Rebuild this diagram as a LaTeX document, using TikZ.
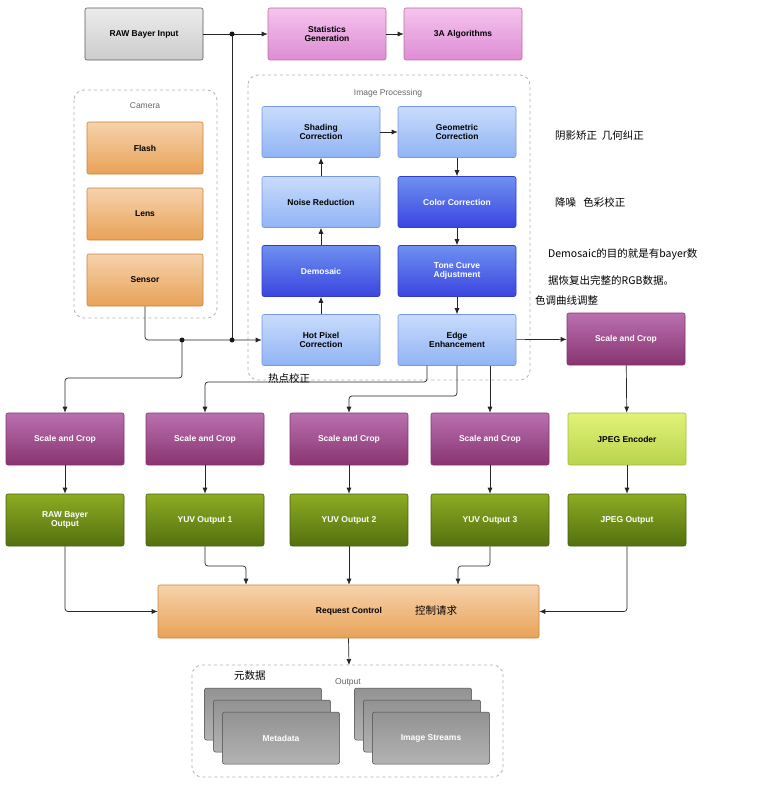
\documentclass[tikz,border=0pt]{standalone}
\usepackage{fontspec}
\setmainfont{Liberation Sans}
\newfontfamily\cjk{Noto Sans CJK SC}
\usetikzlibrary{arrows.meta,calc}
\begin{document}
\begin{tikzpicture}[x=1pt,y=-1pt,
  box/.style={draw=#1!70!black,line width=0.6pt,rounded corners=2pt,minimum width=118pt,minimum height=52pt,align=center,font=\bfseries\fontsize{8.5}{9.5}\selectfont,inner sep=1pt},
  gray/.style={box=gray,top color=gray!15,bottom color=gray!40},
  pinkb/.style={draw=magenta!40!gray,line width=0.6pt,rounded corners=2pt,minimum width=118pt,minimum height=52pt,align=center,font=\bfseries\fontsize{8.5}{9.5}\selectfont,top color={rgb,255:red,245;green,196;blue,238},bottom color={rgb,255:red,222;green,140;blue,212}},
  orng/.style={draw={rgb,255:red,200;green,130;blue,60},line width=0.6pt,rounded corners=2pt,minimum width=116pt,minimum height=52pt,align=center,font=\bfseries\fontsize{8.5}{9.5}\selectfont,top color={rgb,255:red,246;green,210;blue,172},bottom color={rgb,255:red,232;green,162;blue,87}},
  lblue/.style={draw={rgb,255:red,120;green,150;blue,230},line width=0.6pt,rounded corners=2pt,minimum width=118pt,minimum height=51pt,align=center,font=\bfseries\fontsize{8.5}{9.5}\selectfont,top color={rgb,255:red,200;green,220;blue,252},bottom color={rgb,255:red,145;green,180;blue,245}},
  dblue/.style={draw={rgb,255:red,50;green,60;blue,200},line width=0.6pt,rounded corners=2pt,minimum width=118pt,minimum height=51pt,align=center,text=white,font=\bfseries\fontsize{8.5}{9.5}\selectfont,top color={rgb,255:red,110;green,145;blue,240},bottom color={rgb,255:red,58;green,68;blue,224}},
  purp/.style={draw={rgb,255:red,130;green,50;blue,110},line width=0.6pt,rounded corners=2pt,minimum width=118pt,minimum height=52pt,align=center,text=white,font=\bfseries\fontsize{8.5}{9.5}\selectfont,top color={rgb,255:red,186;green,112;blue,176},bottom color={rgb,255:red,136;green,52;blue,112}},
  lgreen/.style={draw={rgb,255:red,160;green,190;blue,60},line width=0.6pt,rounded corners=2pt,minimum width=118pt,minimum height=52pt,align=center,font=\bfseries\fontsize{8.5}{9.5}\selectfont,top color={rgb,255:red,226;green,242;blue,120},bottom color={rgb,255:red,184;green,212;blue,76}},
  green/.style={draw={rgb,255:red,70;green,95;blue,15},line width=0.6pt,rounded corners=2pt,minimum width=118pt,minimum height=52pt,align=center,text=white,font=\bfseries\fontsize{8.5}{9.5}\selectfont,top color={rgb,255:red,140;green,172;blue,34},bottom color={rgb,255:red,84;green,112;blue,16}},
  card/.style={draw=gray!60!black,line width=0.5pt,rounded corners=2pt,minimum width=117pt,minimum height=52pt,align=center,text=white,font=\bfseries\fontsize{8.5}{9.5}\selectfont,top color=gray!85,bottom color=gray!140!black},
  grp/.style={draw=gray!60,dashed,line width=0.8pt,rounded corners=10pt},
  gl/.style={text=gray!80!black,font=\fontsize{8.5}{9.5}\selectfont},
  ar/.style={draw=gray!30!black,line width=0.7pt,-{Latex[length=6pt,width=5pt]}},
  ln/.style={draw=gray!30!black,line width=0.7pt},
  dot/.style={circle,fill=gray!20!black,inner sep=0pt,minimum size=5pt},
  zh/.style={font=\cjk\fontsize{10.5}{12}\selectfont,anchor=west,inner sep=0pt}]
\useasboundingbox (0,0) rectangle (766,789);
% groups
\draw[grp] (74,90) rectangle (217,318);
\node[gl] (camlbl) at (145,106) {Camera};
\draw[grp] (248,75) rectangle (530,380);
\node[gl] (iplbl) at (388,93) {Image Processing};
\draw[grp] (192,665) rectangle (503,777);
\node[gl] (outlbl) at (348,682) {Output};
% top
\node[gray] (raw) at (144,34) {RAW Bayer Input};
\node[pinkb] (stat) at (327,34) {Statistics\\Generation};
\node[pinkb] (aaa) at (463,34) {3A Algorithms};
% camera
\node[orng] (flash) at (145,148) {Flash};
\node[orng] (lens) at (145,214) {Lens};
\node[orng] (sensor) at (145,280) {Sensor};
% IP
\node[lblue] (shade) at (321,132) {Shading\\Correction};
\node[lblue] (geo) at (457,132) {Geometric\\Correction};
\node[lblue] (noise) at (321,202) {Noise Reduction};
\node[dblue] (color) at (457,202) {Color Correction};
\node[dblue] (demo) at (321,271) {Demosaic};
\node[dblue] (tone) at (457,271) {Tone Curve\\Adjustment};
\node[lblue] (hot) at (321,340) {Hot Pixel\\Correction};
\node[lblue] (edge) at (457,340) {Edge\\Enhancement};
\node[purp] (scr) at (626,339) {Scale and Crop};
% scale row
\node[purp] (s1) at (65,439) {Scale and Crop};
\node[purp] (s2) at (205,439) {Scale and Crop};
\node[purp] (s3) at (349,439) {Scale and Crop};
\node[purp] (s4) at (490,439) {Scale and Crop};
\node[lgreen] (jenc) at (627,439) {JPEG Encoder};
% outputs
\node[green] (o1) at (65,520) {RAW Bayer\\Output};
\node[green] (o2) at (205,520) {YUV Output 1};
\node[green] (o3) at (349,520) {YUV Output 2};
\node[green] (o4) at (490,520) {YUV Output 3};
\node[green] (o5) at (627,520) {JPEG Output};
\node[orng,minimum width=381pt,minimum height=53pt] (req) at (348.5,611.5) {};
\node[font=\bfseries\fontsize{8.5}{9.5}\selectfont] (reqt) at (349,611) {Request Control};
% cards
\node[card] (m1) at (263,714) {};
\node[card] (m2) at (272,726) {};
\node[card] (m3) at (281,738) {Metadata};
\node[card] (i1) at (413,714) {};
\node[card] (i2) at (422,726) {};
\node[card] (i3) at (431,738) {Image Streams};
% annotations
\node[zh] (a1) at (555,136) {阴影矫正\ \ 几何纠正};
\node[zh] (a2) at (555,202) {降噪\ \ \ 色彩校正};
\node[zh] (a3) at (548,254) {Demosaic的目的就是有bayer数};
\node[zh] (a4) at (548,280) {据恢复出完整的RGB数据。};
\node[zh] (a5) at (535,300) {色调曲线调整};
\node[zh] (a6) at (268,378) {热点校正};
\node[zh] (a7) at (415,611) {控制请求};
\node[zh] (a8) at (234,676) {元数据};
% connectors
\coordinate (d1) at (232,34);
\coordinate (d2) at (232,340);
\coordinate (d3) at (182,340);
\draw[ar] (raw) -- (stat);
\draw[ar] (stat) -- (aaa);
\draw[ln] (d1) -- (d2);
\draw[ar,rounded corners=3pt] (sensor.south) |- (hot.west);
\draw[ar,rounded corners=3pt] (d3) -- (182,378) -| (s1.north);
\node[dot] (dd1) at (d1) {};
\node[dot] (dd2) at (d2) {};
\node[dot] (dd3) at (d3) {};
\draw[ar] (shade) -- (geo);
\draw[ar] (geo) -- (color);
\draw[ar] (color) -- (tone);
\draw[ar] (tone) -- (edge);
\draw[ar] (hot) -- (demo);
\draw[ar] (demo) -- (noise);
\draw[ar] (noise) -- (shade);
\draw[ar] (edge) -- (scr);
\draw[ar,rounded corners=3pt] (edge.south -| 427,0) -- (427,382) -| (s2.north);
\draw[ar,rounded corners=3pt] (edge.south) -- (457,396) -| (s3.north);
\draw[ar] (edge.south -| s4.north) -- (s4.north);
\draw[ar] (scr) -- (jenc);
\foreach \a/\b in {s1/o1,s2/o2,s3/o3,s4/o4,jenc/o5} \draw[ar] (\a) -- (\b);
\draw[ar,rounded corners=3pt] (o1.south) |- (req.west);
\draw[ar,rounded corners=3pt] (o5.south) |- (req.east);
\draw[ar,rounded corners=3pt] (o2.south) -- (205,566) -| (req.north -| 246,0);
\draw[ar] (o3.south) -- (req.north -| o3.south);
\draw[ar,rounded corners=3pt] (o4.south) -- (490,566) -| (req.north -| 458,0);
\draw[ar] (req.south) -- (349,665);
\end{tikzpicture}
\end{document}
